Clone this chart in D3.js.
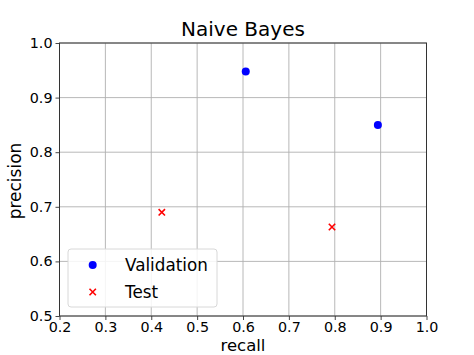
<!DOCTYPE html>
<html>
<head>
<meta charset="utf-8">
<script src="https://cdn.jsdelivr.net/npm/d3@7"></script>
<style>
body{margin:0;background:#fff;}
text{font-family:"DejaVu Sans",sans-serif;fill:#000;}
</style>
</head>
<body>
<svg id="chart" width="474" height="355"></svg>
<script>
const title = "Naive Bayes";
const xLabel = "recall";
const yLabel = "precision";
const seriesNames = ["Validation", "Test"];
const validationRecall = [0.606, 0.894];
const validationPrecision = [0.948, 0.850];
const testRecall = [0.423, 0.794];
const testPrecision = [0.690, 0.663];
const xTicks = [0.2, 0.3, 0.4, 0.5, 0.6, 0.7, 0.8, 0.9, 1.0];
const yTicks = [0.5, 0.6, 0.7, 0.8, 0.9, 1.0];

const svg = d3.select("#chart");
const L = 59.5, R = 426.5, T = 43, B = 316;
const x = d3.scaleLinear().domain([0.2, 1.0]).range([L, R]);
const y = d3.scaleLinear().domain([0.5, 1.0]).range([B, T]);

// grid
const g = svg.append("g");
g.selectAll(".gx").data(xTicks).enter().append("line")
  .attr("x1", d => x(d)).attr("x2", d => x(d)).attr("y1", T).attr("y2", B)
  .attr("stroke", "#b0b0b0").attr("stroke-width", 0.9);
g.selectAll(".gy").data(yTicks).enter().append("line")
  .attr("y1", d => y(d)).attr("y2", d => y(d)).attr("x1", L).attr("x2", R)
  .attr("stroke", "#b0b0b0").attr("stroke-width", 0.9);

// axes
const xAxis = d3.axisBottom(x).tickValues(xTicks).tickFormat(d3.format(".1f")).tickSize(4).tickPadding(2);
const yAxis = d3.axisLeft(y).tickValues(yTicks).tickFormat(d3.format(".1f")).tickSize(4).tickPadding(3);
const gx = svg.append("g").attr("transform", `translate(0,${B})`).call(xAxis);
const gy = svg.append("g").attr("transform", `translate(${L},0)`).call(yAxis);
[gx, gy].forEach(a => {
  a.select(".domain").remove();
  a.selectAll("line").attr("stroke", "#333").attr("stroke-width", 0.9);
  a.selectAll("text").style("font-family", "DejaVu Sans").style("font-size", "14.3px").attr("fill", "#000");
});
// frame
svg.append("rect").attr("x", L).attr("y", T).attr("width", R - L).attr("height", B - T)
  .attr("fill", "none").attr("stroke", "#333").attr("stroke-width", 1);

// points
svg.selectAll(".v").data(validationRecall).enter().append("circle")
  .attr("cx", d => x(d)).attr("cy", (d, i) => y(validationPrecision[i]))
  .attr("r", 4).attr("fill", "#0000ff");
const cross = (sel, s) => sel.append("path")
  .attr("d", `M${-s},${-s}L${s},${s}M${-s},${s}L${s},${-s}`)
  .attr("stroke", "#ff0000").attr("stroke-width", 1.6).attr("fill", "none");
testRecall.forEach((d, i) => {
  const gg = svg.append("g").attr("transform", `translate(${x(d)},${y(testPrecision[i])})`);
  cross(gg, 3.2);
});

// title & labels
svg.append("text").attr("x", (L + R) / 2).attr("y", 36).attr("text-anchor", "middle")
  .style("font-size", "20px").text(title);
svg.append("text").attr("x", (L + R) / 2).attr("y", 351).attr("text-anchor", "middle")
  .style("font-size", "16.5px").text(xLabel);
svg.append("text").attr("transform", `translate(21,${(T + B) / 2 + 1.5}) rotate(-90)`)
  .attr("text-anchor", "middle").style("font-size", "17px").text(yLabel);

// legend
const lg = svg.append("g");
lg.append("rect").attr("x", 68).attr("y", 249).attr("width", 149).attr("height", 58)
  .attr("rx", 3).attr("fill", "#fff").attr("fill-opacity", 0.85)
  .attr("stroke", "#d8d8d8").attr("stroke-width", 1);
lg.append("circle").attr("cx", 92.7).attr("cy", 265).attr("r", 4).attr("fill", "#0000ff");
cross(lg.append("g").attr("transform", "translate(92.7,292)"), 3.2);
lg.append("text").attr("x", 125).attr("y", 271).style("font-size", "16.8px").text(seriesNames[0]);
lg.append("text").attr("x", 125).attr("y", 298).style("font-size", "16.8px").text(seriesNames[1]);
</script>
</body>
</html>
